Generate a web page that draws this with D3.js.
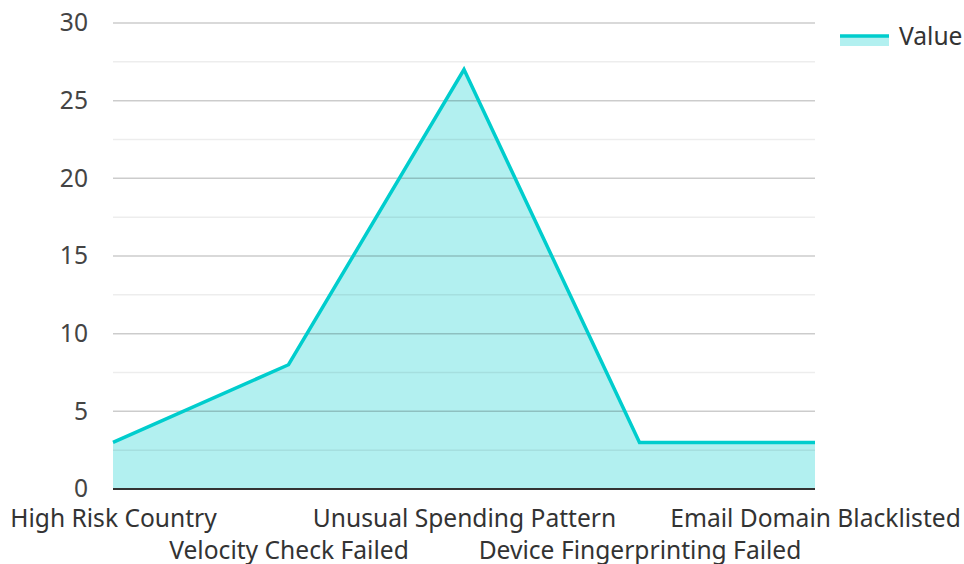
<!DOCTYPE html>
<html>
<head>
<meta charset="utf-8">
<script src="https://cdn.jsdelivr.net/npm/d3@7"></script>
<style>
  html, body { margin: 0; padding: 0; background: #fff; }
  svg { display: block; font-family: "Noto Sans", sans-serif; }
</style>
</head>
<body>
<svg id="chart" width="964" height="564"></svg>
<script>
// Fraud signal counts
const categories = [
  "High Risk Country",
  "Velocity Check Failed",
  "Unusual Spending Pattern",
  "Device Fingerprinting Failed",
  "Email Domain Blacklisted"
];
const values = [3, 8, 27, 3, 3];
const yTicks = [0, 5, 10, 15, 20, 25, 30];
const yMinorTicks = [2.5, 7.5, 12.5, 17.5, 22.5, 27.5];
const seriesName = "Value";

const svg = d3.select("#chart");
const margin = { left: 113, right: 149, top: 23, bottom: 75 };
const W = 964, H = 564;
const font = "'Noto Sans', sans-serif";
const fontSize = 24.6;

const x = d3.scalePoint()
  .domain(categories)
  .range([margin.left, W - margin.right]);
const y = d3.scaleLinear()
  .domain([0, 30])
  .range([H - margin.bottom, margin.top]);

const lineColor = "#00cdcd";
const fillColor = "#00cdcd";

// Area under the series
const area = d3.area()
  .x((d, i) => x(categories[i]))
  .y0(y(0))
  .y1(d => y(d));
svg.append("path")
  .datum(values)
  .attr("d", area)
  .attr("fill", fillColor)
  .attr("fill-opacity", 0.3);

// Grid lines (drawn over the fill)
const grid = svg.append("g");
grid.selectAll("line.minor")
  .data(yMinorTicks)
  .join("line")
  .attr("class", "minor")
  .attr("x1", margin.left).attr("x2", W - margin.right)
  .attr("y1", d => y(d)).attr("y2", d => y(d))
  .attr("stroke", "#000").attr("stroke-opacity", 0.07).attr("stroke-width", 1.5);
grid.selectAll("line.major")
  .data(yTicks.filter(d => d !== 0))
  .join("line")
  .attr("class", "major")
  .attr("x1", margin.left).attr("x2", W - margin.right)
  .attr("y1", d => y(d)).attr("y2", d => y(d))
  .attr("stroke", "#000").attr("stroke-opacity", 0.2).attr("stroke-width", 1.5);

// Series line
const line = d3.line()
  .x((d, i) => x(categories[i]))
  .y(d => y(d));
svg.append("path")
  .datum(values)
  .attr("d", line)
  .attr("fill", "none")
  .attr("stroke", lineColor)
  .attr("stroke-width", 3.5)
  .attr("stroke-linejoin", "miter");

// Baseline
svg.append("line")
  .attr("x1", margin.left).attr("x2", W - margin.right)
  .attr("y1", y(0)).attr("y2", y(0))
  .attr("stroke", "#333").attr("stroke-width", 2);

// Y axis labels
const yAxis = d3.axisLeft(y).tickValues(yTicks).tickSize(0).tickPadding(25);
const yg = svg.append("g")
  .attr("transform", `translate(${margin.left},0)`)
  .call(yAxis);
yg.select(".domain").remove();
yg.selectAll("text")
  .attr("font-size", fontSize)
  .attr("fill", "#444")
  .attr("font-family", font);

// X axis labels, staggered on two rows
const xAxis = d3.axisBottom(x).tickSize(0).tickPadding(0);
const xg = svg.append("g")
  .attr("transform", `translate(0,${y(0)})`)
  .call(xAxis);
xg.select(".domain").remove();
xg.selectAll("text")
  .attr("font-size", fontSize)
  .attr("fill", "#333")
  .attr("font-family", font)
  .attr("dy", null)
  .attr("y", (d, i) => i % 2 === 0 ? 38 : 70);

// Legend
const lg = svg.append("g").attr("transform", "translate(840,36)");
lg.append("rect")
  .attr("x", 0).attr("y", 0).attr("width", 49).attr("height", 10)
  .attr("fill", fillColor).attr("fill-opacity", 0.3);
lg.append("line")
  .attr("x1", 0).attr("x2", 49).attr("y1", 0).attr("y2", 0)
  .attr("stroke", lineColor).attr("stroke-width", 3.5);
lg.append("text")
  .attr("x", 59).attr("y", 8.5)
  .attr("font-size", fontSize)
  .attr("fill", "#333")
  .attr("font-family", font)
  .text(seriesName);
</script>
</body>
</html>
